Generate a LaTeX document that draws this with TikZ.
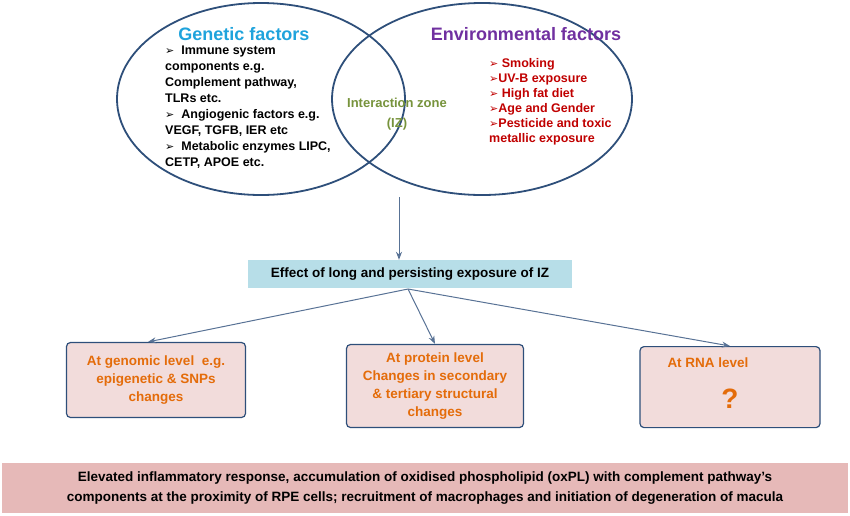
\documentclass[tikz,border=0pt]{standalone}
\usepackage{fontspec}
\setmainfont{Liberation Sans}
\newfontfamily\symfont{DejaVu Sans}
\usetikzlibrary{positioning}
\definecolor{venn}{HTML}{2E4F7A}
\definecolor{gencol}{HTML}{1FA3DC}
\definecolor{envcol}{HTML}{7030A0}
\definecolor{redtxt}{HTML}{C00000}
\definecolor{izcol}{HTML}{77933C}
\definecolor{orangetxt}{HTML}{E46C0A}
\definecolor{effectfill}{HTML}{B7DEE8}
\definecolor{levelfill}{HTML}{F2DCDB}
\definecolor{bottomfill}{HTML}{E6B9B8}
\newcommand{\bul}{{\symfont\fontsize{11}{11}\selectfont ➢}}
\tikzset{
  levelbox/.style={draw=venn, line width=1.2pt, rounded corners=4pt, fill=levelfill,
    font=\bfseries\fontsize{13.5}{18}\selectfont, text=orangetxt, align=center},
  flow/.style={-{Stealth[length=8pt,width=6pt]}, draw=venn!80, line width=1pt}
}
\usetikzlibrary{arrows.meta}
\begin{document}
\begin{tikzpicture}[x=1pt,y=-1pt]
  \useasboundingbox (0,0) rectangle (850,515);
  %venn
  \draw[venn, line width=1.8pt] (261,99) ellipse [x radius=144, y radius=96];
  \draw[venn, line width=1.8pt] (482,99) ellipse [x radius=150, y radius=96];
  \node (gen) at (244,34) {\bfseries\fontsize{18}{20}\selectfont\color{gencol}Genetic factors};
  \node (env) at (526,34) {\bfseries\fontsize{18}{20}\selectfont\color{envcol}Environmental factors};
  \node[anchor=north west, align=left, inner sep=0pt, font=\bfseries\fontsize{12.5}{16}\selectfont]
    (genlist) at (165,46) {\bul\ \ Immune system\\components e.g.\\Complement pathway,\\TLRs etc.\\
    \bul\ \ Angiogenic factors e.g.\\VEGF, TGFB, IER etc\\\bul\ \ Metabolic enzymes LIPC,\\CETP, APOE etc.};
  \node[anchor=north west, align=left, inner sep=0pt, text=redtxt, font=\bfseries\fontsize{12.5}{15}\selectfont]
    (envlist) at (489,58) {\bul\ Smoking\\\bul UV-B exposure\\\bul\ High fat diet\\\bul Age and Gender\\
    \bul Pesticide and toxic\\metallic exposure};
  \node[align=center, text=izcol, font=\bfseries\fontsize{13}{20}\selectfont] (iz) at (397,114)
    {Interaction zone\\(IZ)};
  %flow
  \coordinate (vennbot) at (399,197);
  \node[fill=effectfill, minimum width=324pt, minimum height=28pt,
    font=\bfseries\fontsize{13.5}{15}\selectfont] (effect) at (410,274)
    {Effect of long and persisting exposure of IZ};
  \draw[flow] (vennbot) -- (effect.north -| vennbot);
  \node[levelbox, minimum width=179pt, minimum height=75pt] (genomic) at (156,380)
    {At genomic level\ \ e.g.\\epigenetic \& SNPs\\changes};
  \node[levelbox, minimum width=177pt, minimum height=83pt] (protein) at (435,386)
    {At protein level\\Changes in secondary\\\& tertiary structural\\changes};
  \node[levelbox, minimum width=180pt, minimum height=81pt, anchor=north] (rna) at (730,346) {};
  \node[text=orangetxt, font=\bfseries\fontsize{13.5}{15}\selectfont] (rnatxt) at (708,363) {At RNA level};
  \node[text=orangetxt, font=\bfseries\fontsize{28}{30}\selectfont] (qmark) at (730,399) {?};
  \coordinate (split) at (408,289);
  \draw[flow] (split) -- (genomic.north -| 148,0);
  \draw[flow] (split) -- (protein.north);
  \draw[flow] (split) -- (rna.north);
  %bottom
  \node[fill=bottomfill, minimum width=846pt, minimum height=50pt, align=center,
    font=\bfseries\fontsize{13.5}{20}\selectfont] (outcome) at (425,488)
    {Elevated inflammatory response, accumulation of oxidised phospholipid (oxPL) with complement pathway's\\
     components at the proximity of RPE cells; recruitment of macrophages and initiation of degeneration of macula};
\end{tikzpicture}
\end{document}
